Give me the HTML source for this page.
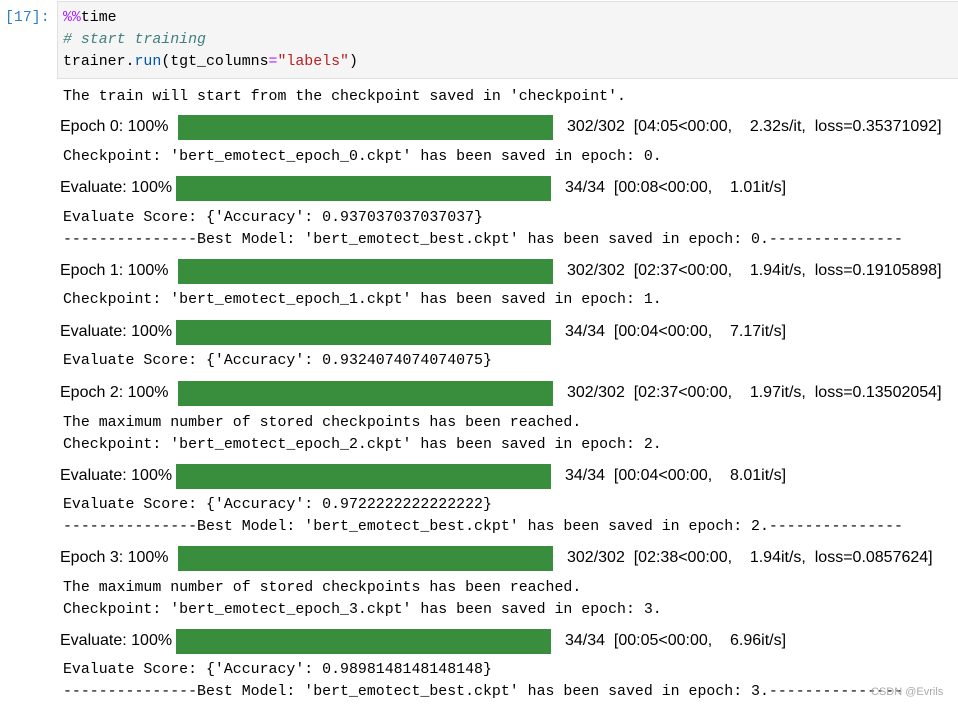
<!DOCTYPE html>
<html><head><meta charset="utf-8"><style>
body{margin:0;width:958px;height:705px;background:#fff;position:relative;overflow:hidden}
.a{position:absolute;white-space:pre;line-height:22px}
.m{font-family:"Liberation Mono","DejaVu Sans Mono",monospace;font-size:14.9px;color:#000}
.s{font-family:"Liberation Sans",sans-serif;font-size:16px;color:#000}
.bar{position:absolute;height:25px;background:#388e3c}
.box{position:absolute;left:57px;top:1px;width:900px;height:76px;background:#f5f5f5;border:1px solid #e0e0e0}
</style></head><body>
<div class="box"></div>
<div class="a m" style="left:5px;top:7px;color:#307fc1">[17]:</div>
<div class="a m" style="left:63px;top:7px"><span style="color:#aa22ff">%%</span>time</div>
<div class="a m" style="left:63px;top:29px;color:#408080;font-style:italic"># start training</div>
<div class="a m" style="left:63px;top:51px">trainer.<span style="color:#0055aa">run</span>(tgt_columns<span style="color:#aa22ff">=</span><span style="color:#ba2121">"labels"</span>)</div>

<div class="a m" style="left:63px;top:86px">The train will start from the checkpoint saved in 'checkpoint'.</div>

<div class="a s" style="left:60px;top:116px">Epoch 0: 100%</div>
<div class="bar" style="left:178px;top:115px;width:375px"></div>
<div class="a s" style="left:567px;top:116px">302/302  [04:05&lt;00:00,    2.32s/it,  loss=0.35371092]</div>
<div class="a m" style="left:63px;top:146px">Checkpoint: 'bert_emotect_epoch_0.ckpt' has been saved in epoch: 0.</div>

<div class="a s" style="left:60px;top:177px">Evaluate: 100%</div>
<div class="bar" style="left:176px;top:176px;width:375px"></div>
<div class="a s" style="left:565px;top:177px">34/34  [00:08&lt;00:00,    1.01it/s]</div>
<div class="a m" style="left:63px;top:207px">Evaluate Score: {'Accuracy': 0.937037037037037}</div>
<div class="a m" style="left:63px;top:229px">---------------Best Model: 'bert_emotect_best.ckpt' has been saved in epoch: 0.---------------</div>

<div class="a s" style="left:60px;top:260px">Epoch 1: 100%</div>
<div class="bar" style="left:178px;top:259px;width:375px"></div>
<div class="a s" style="left:567px;top:260px">302/302  [02:37&lt;00:00,    1.94it/s,  loss=0.19105898]</div>
<div class="a m" style="left:63px;top:289px">Checkpoint: 'bert_emotect_epoch_1.ckpt' has been saved in epoch: 1.</div>

<div class="a s" style="left:60px;top:321px">Evaluate: 100%</div>
<div class="bar" style="left:176px;top:320px;width:375px"></div>
<div class="a s" style="left:565px;top:321px">34/34  [00:04&lt;00:00,    7.17it/s]</div>
<div class="a m" style="left:63px;top:350px">Evaluate Score: {'Accuracy': 0.9324074074074075}</div>

<div class="a s" style="left:60px;top:382px">Epoch 2: 100%</div>
<div class="bar" style="left:178px;top:381px;width:375px"></div>
<div class="a s" style="left:567px;top:382px">302/302  [02:37&lt;00:00,    1.97it/s,  loss=0.13502054]</div>
<div class="a m" style="left:63px;top:412px">The maximum number of stored checkpoints has been reached.</div>
<div class="a m" style="left:63px;top:434px">Checkpoint: 'bert_emotect_epoch_2.ckpt' has been saved in epoch: 2.</div>

<div class="a s" style="left:60px;top:465px">Evaluate: 100%</div>
<div class="bar" style="left:176px;top:464px;width:375px"></div>
<div class="a s" style="left:565px;top:465px">34/34  [00:04&lt;00:00,    8.01it/s]</div>
<div class="a m" style="left:63px;top:494px">Evaluate Score: {'Accuracy': 0.9722222222222222}</div>
<div class="a m" style="left:63px;top:516px">---------------Best Model: 'bert_emotect_best.ckpt' has been saved in epoch: 2.---------------</div>

<div class="a s" style="left:60px;top:547px">Epoch 3: 100%</div>
<div class="bar" style="left:178px;top:546px;width:375px"></div>
<div class="a s" style="left:567px;top:547px">302/302  [02:38&lt;00:00,    1.94it/s,  loss=0.0857624]</div>
<div class="a m" style="left:63px;top:577px">The maximum number of stored checkpoints has been reached.</div>
<div class="a m" style="left:63px;top:599px">Checkpoint: 'bert_emotect_epoch_3.ckpt' has been saved in epoch: 3.</div>

<div class="a s" style="left:60px;top:630px">Evaluate: 100%</div>
<div class="bar" style="left:176px;top:629px;width:375px"></div>
<div class="a s" style="left:565px;top:630px">34/34  [00:05&lt;00:00,    6.96it/s]</div>
<div class="a m" style="left:63px;top:659px">Evaluate Score: {'Accuracy': 0.9898148148148148}</div>
<div class="a m" style="left:63px;top:681px">---------------Best Model: 'bert_emotect_best.ckpt' has been saved in epoch: 3.---------------</div>
<div class="a" style="left:871px;top:681px;font-family:'Liberation Sans',sans-serif;font-size:11px;color:#aaa">CSDN @Evrils</div>
</body></html>
